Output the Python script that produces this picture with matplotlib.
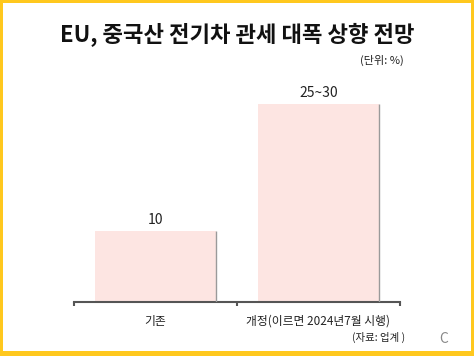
import matplotlib
matplotlib.use("Agg")
from matplotlib import pyplot as plt
from matplotlib.patches import Rectangle

plt.rcParams['font.family'] = ['Noto Sans CJK KR', 'DejaVu Sans']

categories = ['기존', '개정(이르면 2024년7월 시행)']
values = [10, 28]
value_labels = ['10', '25~30']

W, H = 474, 356
fig = plt.figure(figsize=(W / 100, H / 100), dpi=100)
fig.patch.set_facecolor('#FFC81E')
# white card inside the yellow frame
fig.patches.append(Rectangle((3 / W, 5 / H), 1 - 6 / W, 1 - 8 / H,
                             transform=fig.transFigure, facecolor='white',
                             edgecolor='none', zorder=-1))

ax = fig.add_axes([74 / W, 1 - 302 / H, 326 / W, 212 / H])
ax.set_facecolor('none')

x = list(range(len(categories)))
bw = 0.74
ax.bar(x, values, width=bw, color='#FDE5E2', edgecolor='none', zorder=2)
# thin grey shade on the right side of each bar
ax.vlines([i + bw / 2 for i in x], 0, values, color='#9A9A9A', lw=1, zorder=3)

for i, (v, lab) in enumerate(zip(values, value_labels)):
    ax.annotate(lab, (i, v), xytext=(0, 3), textcoords='offset points',
                ha='center', va='bottom', fontsize=10, color='#222222')

ax.set_xlim(-0.5, len(categories) - 0.5)
ax.set_ylim(0, 30)
for s in ['top', 'right', 'left']:
    ax.spines[s].set_visible(False)
ax.spines['bottom'].set_color('#555555')
ax.spines['bottom'].set_linewidth(1.5)
ax.set_yticks([])
ax.set_xticks([-0.5, 0.5, 1.5])
ax.set_xticklabels([])
ax.tick_params(axis='x', length=3, width=1.5, color='#555555', direction='out')
for i, c in enumerate(categories):
    ax.annotate(c, (i, 0), xytext=(0, -9), textcoords='offset points',
                ha='center', va='top', fontsize=8.5, color='#222222')

fig.text(0.5, 1 - 35 / H, 'EU, 중국산 전기차 관세 대폭 상향 전망', ha='center',
         va='center', fontsize=16, fontweight='bold', color='#111111')
fig.text(404 / W, 1 - 60 / H, '(단위: %)', ha='right', va='center',
         fontsize=8, color='#222222')
fig.text(405 / W, 1 - 337 / H, '(자료: 업계 )', ha='right', va='center',
         fontsize=7.5, color='#222222')
fig.text(444 / W, 1 - 339 / H, 'C', ha='center', va='center',
         fontsize=10, color='#888888', fontweight='light')

fig.savefig('out.png', dpi=100, facecolor=fig.get_facecolor())
